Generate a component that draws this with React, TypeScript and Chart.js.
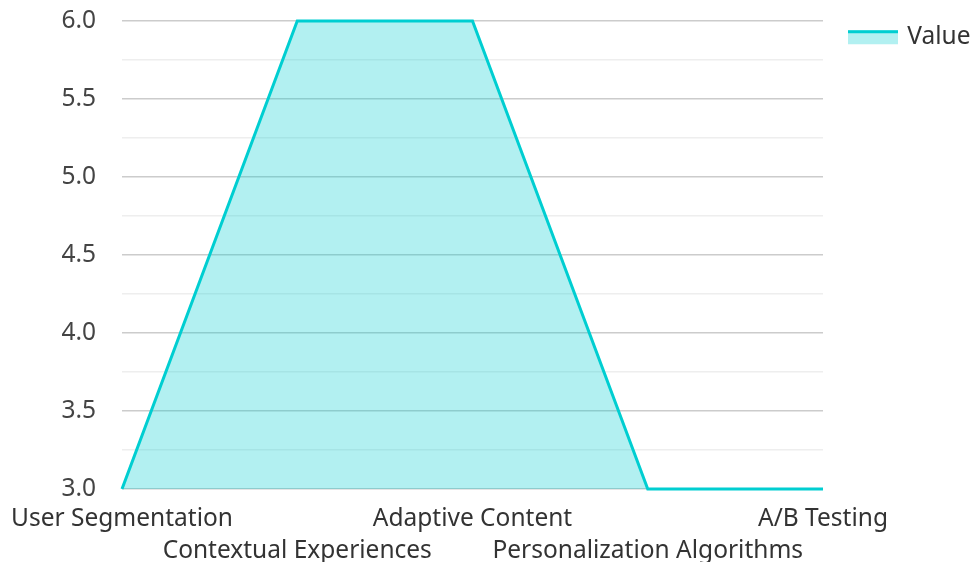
import React, { useEffect, useRef } from "react";
import { Chart, registerables } from "chart.js";

Chart.register(...registerables);

const categories: (string | string[])[] = [
  ["User Segmentation"],
  ["", "Contextual Experiences"],
  ["Adaptive Content"],
  ["", "Personalization Algorithms"],
  ["A/B Testing"],
];
const seriesName = "Value";
const values = [3, 6, 6, 3, 3];
const yMin = 3;
const yMax = 6;
const yStep = 0.25;

const LINE = "rgb(0,206,209)";
const FILL = "rgba(0,206,209,0.3)";
const FONT = "'Noto Sans', 'Open Sans', sans-serif";
const FONT_SIZE = 24.5;
const LEGEND_BOX_W = 47;
const LEGEND_BOX_DRAWN_W = 50;

const legendLinePlugin = {
  id: "legendLine",
  beforeUpdate(chart: any) {
    const legend = chart.legend;
    if (legend && !legend.__patched) {
      const orig = legend.fit;
      legend.fit = function () {
        orig.call(this);
        this.width = 150;
      };
      legend.__patched = true;
    }
  },
  afterDraw(chart: any) {
    const legend = chart.legend;
    if (!legend || !legend.legendHitBoxes) return;
    const ctx = chart.ctx;
    const bh = legend.options.labels.boxHeight;
    const fs = legend.options.labels.font.size;
    legend.legendHitBoxes.forEach((hb: any) => {
      const y = hb.top + Math.max((fs - bh) / 2, 0);
      ctx.save();
      ctx.fillStyle = FILL;
      ctx.fillRect(hb.left + LEGEND_BOX_W, y, LEGEND_BOX_DRAWN_W - LEGEND_BOX_W, bh);
      ctx.fillStyle = LINE;
      ctx.fillRect(hb.left, y, LEGEND_BOX_DRAWN_W, 3);
      ctx.restore();
    });
  },
};

export default function App() {
  const ref = useRef<HTMLCanvasElement | null>(null);
  useEffect(() => {
    if (!ref.current) return;
    const chart = new Chart(ref.current, {
      type: "line",
      data: {
        labels: categories,
        datasets: [
          {
            label: seriesName,
            data: values,
            borderColor: LINE,
            backgroundColor: FILL,
            borderWidth: 3,
            fill: true,
            tension: 0,
            pointRadius: 0,
            clip: false,
          },
        ],
      },
      options: {
        animation: false,
        responsive: true,
        maintainAspectRatio: false,
        layout: { padding: 0 },
        plugins: {
          legend: {
            position: "right",
            align: "start",
            labels: {
              boxWidth: LEGEND_BOX_W,
              boxHeight: 14,
              padding: 25,
              color: "#333",
              font: { family: FONT, size: FONT_SIZE },
              generateLabels: () => [
                {
                  text: seriesName,
                  fillStyle: FILL,
                  strokeStyle: FILL,
                  lineWidth: 0,
                  fontColor: "#333",
                  datasetIndex: 0,
                } as any,
              ],
            },
          },
          tooltip: { enabled: false },
        },
        scales: {
          x: {
            grid: { display: false, drawTicks: false },
            border: { display: false },
            afterFit: (s: any) => {
              s.paddingLeft = 122;
              s.paddingRight = 0;
              s.height = 73;
            },
            ticks: {
              color: "#333",
              font: { family: FONT, size: FONT_SIZE, lineHeight: 1.3 },
              maxRotation: 0,
              autoSkip: false,
              padding: 14,
            },
          },
          y: {
            min: yMin,
            max: yMax,
            border: { display: false },
            afterFit: (s: any) => {
              s.paddingTop = 21;
              s.paddingBottom = 0;
            },
            grid: {
              drawTicks: false,
              lineWidth: 1.5,
              color: (c: any) =>
                Math.abs(c.tick.value * 2 - Math.round(c.tick.value * 2)) < 1e-6 ? "#cccccc" : "#eeeeee",
            },
            ticks: {
              stepSize: yStep,
              padding: 26,
              color: "#444",
              font: { family: FONT, size: FONT_SIZE },
              callback: (v: any) => {
                const n = Number(v);
                return Math.abs(n * 2 - Math.round(n * 2)) < 1e-6 ? n.toFixed(1) : "";
              },
            },
          },
        },
      },
      plugins: [legendLinePlugin],
    });
    return () => chart.destroy();
  }, []);
  return (
    <div style={{ position: "fixed", left: 0, top: 0, width: 973, height: 562, background: "#fff" }}>
      <canvas ref={ref} />
    </div>
  );
}
